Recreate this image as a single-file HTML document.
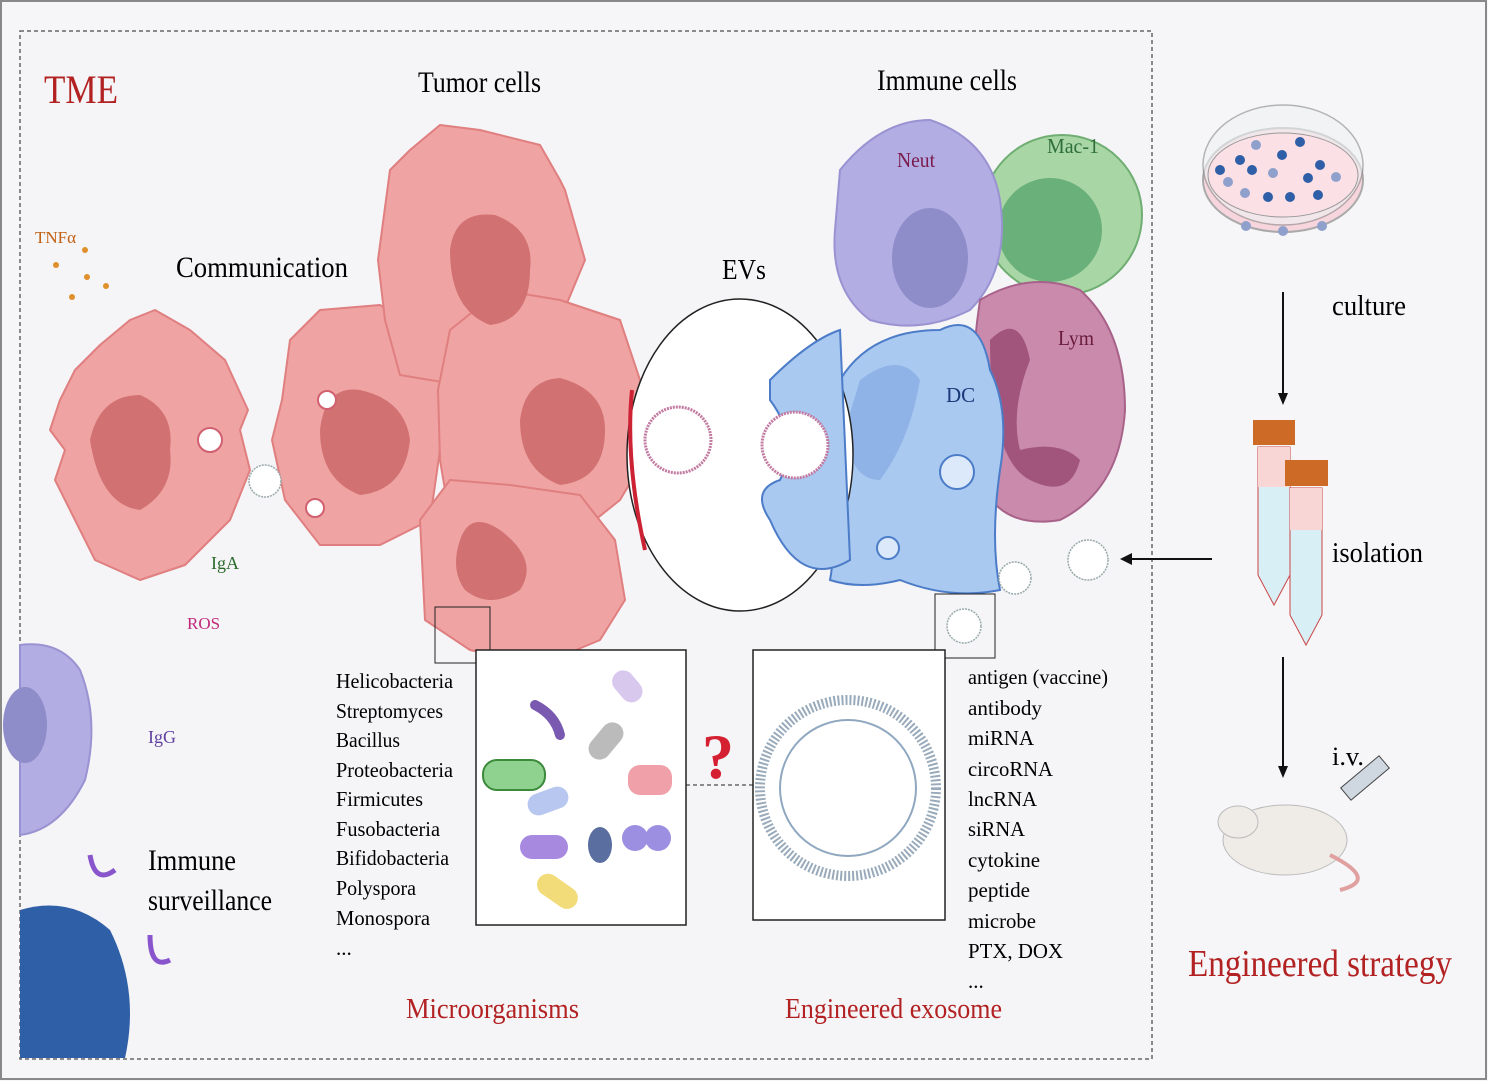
<!DOCTYPE html>
<html><head><meta charset="utf-8"><style>
html,body{margin:0;padding:0;background:#f6f5f8;}
svg{display:block;}
text{font-family:"Liberation Serif",serif;}
</style></head><body>
<svg width="1488" height="1081" viewBox="0 0 1488 1081" xmlns="http://www.w3.org/2000/svg">
<rect x="0" y="0" width="1488" height="1081" fill="#f6f5f8"/>
<rect x="1" y="1" width="1485" height="1078" fill="none" stroke="#888" stroke-width="2"/>
<rect x="20" y="31" width="1132" height="1028" fill="#f5f4f7" stroke="#666" stroke-width="1.5" stroke-dasharray="4,3"/>

<!-- tumor cells -->
<g fill="#f0a3a3" stroke="#e07f80" stroke-width="2" stroke-linejoin="round">
<path d="M60,400 L50,430 L65,450 L55,480 L75,520 L95,560 L140,580 L185,565 L230,520 L250,470 L240,430 L248,410 L225,360 L190,330 L155,310 L130,320 L100,345 L75,370Z"/>
<path d="M290,340 L320,310 L380,305 L420,330 L445,380 L440,450 L430,520 L380,545 L320,545 L285,500 L272,440 L282,400Z"/>
<path d="M390,170 L410,150 L440,125 L480,130 L540,145 L560,180 L565,190 L585,260 L560,320 L520,380 L460,385 L400,375 L385,320 L378,260Z"/>
<path d="M450,330 L500,290 L560,300 L620,320 L640,380 L650,450 L620,500 L570,540 L510,535 L450,520 L440,460 L438,390Z"/>
<path d="M420,520 L450,480 L510,485 L580,495 L615,540 L625,600 L600,640 L540,665 L470,650 L425,620Z"/>
</g>
<g fill="#d27172">
<path d="M90,440 Q100,395 140,395 Q175,410 170,450 Q175,490 140,510 Q100,505 90,440Z"/>
<path d="M320,430 Q325,385 360,390 Q405,400 410,440 Q405,490 360,495 Q320,480 320,430Z"/>
<path d="M450,250 Q455,210 495,215 Q535,230 530,270 Q530,320 490,325 Q450,310 450,250Z"/>
<path d="M520,420 Q525,380 560,378 Q605,390 605,430 Q605,480 560,485 Q520,470 520,420Z"/>
<path d="M460,540 Q470,510 500,530 Q540,560 520,590 Q490,610 465,590 Q450,570 460,540Z"/>
</g>

<!-- immune cells -->
<circle cx="1062" cy="215" r="80" fill="#a9d6a5" stroke="#6fae72" stroke-width="2"/>
<circle cx="1050" cy="230" r="52" fill="#69b07a"/>
<path d="M840,170 Q880,120 930,120 Q990,140 1000,200 Q1010,270 970,310 Q920,335 870,320 Q830,290 835,230Z" fill="#b2ade3" stroke="#9a93d2" stroke-width="2"/>
<ellipse cx="930" cy="258" rx="38" ry="50" fill="#8f8dc9"/>
<path d="M980,300 Q1030,270 1080,290 Q1125,330 1125,410 Q1120,490 1060,520 Q1000,530 980,480 Q965,400 980,300Z" fill="#c98aac" stroke="#a8628a" stroke-width="2"/>
<path d="M990,340 Q1020,310 1030,360 Q1010,410 1020,450 Q1060,440 1080,460 Q1070,500 1030,480 Q990,460 990,340Z" fill="#a2557c"/>
<path d="M840,380 Q870,330 940,330 Q980,310 990,370 Q1010,410 1000,470 Q990,540 1000,590 Q950,600 900,580 Q860,590 830,580 Q840,530 800,520 Q760,480 800,450 Q820,420 840,380Z" fill="#a9c9f1" stroke="#4c7cc8" stroke-width="2"/>
<path d="M860,380 Q900,350 920,380 Q910,440 880,480 Q850,480 845,430Z" fill="#8fb3e6"/>
<circle cx="957" cy="472" r="17" fill="#dce9fa" stroke="#4c7cc8" stroke-width="2"/>
<circle cx="888" cy="548" r="11" fill="#dce9fa" stroke="#4c7cc8" stroke-width="2"/>

<!-- EVs circle -->
<ellipse cx="740" cy="455" rx="113" ry="156" fill="#fff" stroke="#222" stroke-width="1.5"/>
<path d="M770,380 Q810,340 840,330 L850,560 Q800,590 770,520 Q750,490 780,480 Q800,440 770,400Z" fill="#a9c9f1" stroke="#4c7cc8" stroke-width="2"/>
<circle cx="795" cy="445" r="33" fill="#fff" stroke="#c27aa0" stroke-width="3" stroke-dasharray="2,1"/>
<circle cx="678" cy="440" r="33" fill="#fff" stroke="#c27aa0" stroke-width="3" stroke-dasharray="2,1"/>
<path d="M632,390 Q625,460 645,550" fill="none" stroke="#c23" stroke-width="4"/>

<!-- small vesicles -->
<g fill="#fff" stroke="#9aa" stroke-width="1.5" stroke-dasharray="2,1">
<circle cx="265" cy="481" r="16"/><circle cx="1015" cy="578" r="16"/><circle cx="1088" cy="560" r="20"/><circle cx="964" cy="626" r="17"/>
</g>
<g fill="#fff" stroke="#d06070" stroke-width="2">
<circle cx="210" cy="440" r="12"/><circle cx="327" cy="400" r="9"/><circle cx="315" cy="508" r="9"/>
</g>
<rect x="935" y="594" width="60" height="64" fill="none" stroke="#222" stroke-width="1"/>
<rect x="435" y="607" width="55" height="56" fill="none" stroke="#222" stroke-width="1"/>

<!-- left immune cells -->
<path d="M20,645 Q60,640 80,670 Q100,720 85,780 Q60,830 20,835Z" fill="#b2ade3" stroke="#9a93d2" stroke-width="2"/>
<ellipse cx="25" cy="725" rx="22" ry="38" fill="#8f8dc9"/>
<path d="M20,910 Q70,895 110,930 Q140,990 125,1058 L20,1058Z" fill="#2f5fa6"/>
<path d="M90,855 Q95,885 115,870 M150,935 Q150,970 170,960" fill="none" stroke="#8855cc" stroke-width="5"/>

<!-- dots -->
<g fill="#e0902a"><circle cx="56" cy="265" r="3"/><circle cx="85" cy="250" r="3"/><circle cx="72" cy="297" r="3"/><circle cx="87" cy="277" r="3"/><circle cx="106" cy="286" r="3"/></g>

<!-- boxes -->
<rect x="476" y="650" width="210" height="275" fill="#fff" stroke="#222" stroke-width="1.5"/>
<rect x="753" y="650" width="192" height="270" fill="#fff" stroke="#222" stroke-width="1.5"/>
<line x1="686" y1="785" x2="753" y2="785" stroke="#222" stroke-width="1" stroke-dasharray="4,3"/>
<text x="718" y="778" font-size="64" fill="#d42030" text-anchor="middle" font-weight="bold">?</text>
<g>
<rect x="483" y="760" width="62" height="30" rx="14" fill="#8fd18f" stroke="#3a8a3a" stroke-width="2"/>
<rect x="520" y="835" width="48" height="24" rx="12" fill="#a78ae0"/>
<rect x="527" y="790" width="42" height="22" rx="11" fill="#b7c7f0" transform="rotate(-20 548 801)"/>
<rect x="585" y="730" width="42" height="22" rx="11" fill="#bbb" transform="rotate(-50 606 741)"/>
<rect x="628" y="765" width="44" height="30" rx="12" fill="#f0a0a8"/>
<rect x="610" y="675" width="35" height="22" rx="11" fill="#d8c8ee" transform="rotate(50 627 686)"/>
<rect x="535" y="880" width="45" height="22" rx="11" fill="#f2dc7a" transform="rotate(35 557 891)"/>
<ellipse cx="600" cy="845" rx="12" ry="18" fill="#5a6ea0"/>
<circle cx="635" cy="838" r="13" fill="#9c8ee0"/><circle cx="658" cy="838" r="13" fill="#9c8ee0"/>
<path d="M535,705 Q555,715 560,735" stroke="#7a5ab0" stroke-width="10" fill="none" stroke-linecap="round"/>
</g>
<circle cx="848" cy="788" r="88" fill="none" stroke="#9ab" stroke-width="10" stroke-dasharray="2,2"/>
<circle cx="848" cy="788" r="68" fill="#fff" stroke="#8fa8c0" stroke-width="2"/>

<!-- right side: culture -->
<ellipse cx="1283" cy="180" rx="80" ry="52" fill="#f7d5dc" stroke="#aaa" stroke-width="2"/>
<ellipse cx="1283" cy="165" rx="80" ry="60" fill="#eef2f3" stroke="#888" stroke-width="1.5" opacity="0.6"/>
<ellipse cx="1283" cy="175" rx="75" ry="42" fill="#fbe0e6" stroke="#999" stroke-width="1"/>
<g fill="#2f5fa6"><circle cx="1220" cy="170" r="5"/><circle cx="1240" cy="160" r="5"/><circle cx="1252" cy="170" r="5"/><circle cx="1282" cy="155" r="5"/><circle cx="1300" cy="142" r="5"/><circle cx="1320" cy="165" r="5"/><circle cx="1308" cy="178" r="5"/><circle cx="1268" cy="197" r="5"/><circle cx="1290" cy="197" r="5"/><circle cx="1318" cy="195" r="5"/></g>
<g fill="#8fa0cc"><circle cx="1256" cy="145" r="5"/><circle cx="1228" cy="182" r="5"/><circle cx="1273" cy="173" r="5"/><circle cx="1336" cy="177" r="5"/><circle cx="1245" cy="193" r="5"/><circle cx="1246" cy="226" r="5"/><circle cx="1283" cy="231" r="5"/><circle cx="1322" cy="226" r="5"/></g>
<line x1="1283" y1="292" x2="1283" y2="395" stroke="#111" stroke-width="2"/>
<polygon points="1278,393 1288,393 1283,405" fill="#111"/>
<text x="1332" y="315" font-size="28" textLength="74" lengthAdjust="spacingAndGlyphs">culture</text>
<!-- tubes -->
<rect x="1253" y="420" width="42" height="25" fill="#cc6a26"/>
<path d="M1258,447 L1290,447 L1290,575 L1274,605 L1258,575Z" fill="#d8eff5" stroke="#c44" stroke-width="1"/>
<rect x="1258" y="447" width="32" height="40" fill="#f8d6d6"/>
<rect x="1285" y="460" width="43" height="26" fill="#cc6a26"/>
<path d="M1290,488 L1322,488 L1322,615 L1306,645 L1290,615Z" fill="#d8eff5" stroke="#c44" stroke-width="1"/>
<rect x="1290" y="488" width="32" height="42" fill="#f8d6d6"/>
<text x="1332" y="562" font-size="28" textLength="91" lengthAdjust="spacingAndGlyphs">isolation</text>
<line x1="1212" y1="559" x2="1130" y2="559" stroke="#111" stroke-width="2"/>
<polygon points="1132,553 1132,565 1120,559" fill="#111"/>
<line x1="1283" y1="657" x2="1283" y2="768" stroke="#111" stroke-width="2"/>
<polygon points="1278,766 1288,766 1283,778" fill="#111"/>
<text x="1332" y="765" font-size="26" textLength="32" lengthAdjust="spacingAndGlyphs">i.v.</text>
<rect x="1340" y="770" width="50" height="16" fill="#cfd8e0" stroke="#444" transform="rotate(-40 1365 778)"/>
<ellipse cx="1285" cy="840" rx="62" ry="35" fill="#efece8" stroke="#bbb"/>
<ellipse cx="1238" cy="822" rx="20" ry="16" fill="#efece8" stroke="#bbb"/>
<path d="M1330,855 Q1380,880 1340,890" fill="none" stroke="#e0a0a0" stroke-width="4"/>

<!-- texts -->
<text x="44" y="103" font-size="40" fill="#b22222" textLength="74" lengthAdjust="spacingAndGlyphs">TME</text>
<text x="418" y="92" font-size="30" textLength="123" lengthAdjust="spacingAndGlyphs">Tumor cells</text>
<text x="877" y="90" font-size="30" textLength="140" lengthAdjust="spacingAndGlyphs">Immune cells</text>
<text x="176" y="277" font-size="30" textLength="172" lengthAdjust="spacingAndGlyphs">Communication</text>
<text x="722" y="279" font-size="28" textLength="44" lengthAdjust="spacingAndGlyphs">EVs</text>
<text x="35" y="243" font-size="17" fill="#c06010">TNFα</text>
<text x="897" y="167" font-size="21" fill="#7a1b4b" textLength="38" lengthAdjust="spacingAndGlyphs">Neut</text>
<text x="1047" y="153" font-size="21" fill="#2f6f3a" textLength="52" lengthAdjust="spacingAndGlyphs">Mac-1</text>
<text x="1058" y="345" font-size="21" fill="#6a1b3b" textLength="36" lengthAdjust="spacingAndGlyphs">Lym</text>
<text x="946" y="402" font-size="21" fill="#1a3a7a">DC</text>
<text x="211" y="569" font-size="18" fill="#2a6a2a">IgA</text>
<text x="187" y="629" font-size="17" fill="#c0287a">ROS</text>
<text x="148" y="743" font-size="18" fill="#6040a0">IgG</text>
<text x="148" y="870" font-size="30" textLength="88" lengthAdjust="spacingAndGlyphs">Immune</text>
<text x="148" y="910" font-size="30" textLength="124" lengthAdjust="spacingAndGlyphs">surveillance</text>
<g font-size="21">
<text x="336" y="688" textLength="117" lengthAdjust="spacingAndGlyphs">Helicobacteria</text>
<text x="336" y="718" textLength="107" lengthAdjust="spacingAndGlyphs">Streptomyces</text>
<text x="336" y="747" textLength="64" lengthAdjust="spacingAndGlyphs">Bacillus</text>
<text x="336" y="777" textLength="117" lengthAdjust="spacingAndGlyphs">Proteobacteria</text>
<text x="336" y="806" textLength="87" lengthAdjust="spacingAndGlyphs">Firmicutes</text>
<text x="336" y="836" textLength="104" lengthAdjust="spacingAndGlyphs">Fusobacteria</text>
<text x="336" y="865" textLength="113" lengthAdjust="spacingAndGlyphs">Bifidobacteria</text>
<text x="336" y="895" textLength="80" lengthAdjust="spacingAndGlyphs">Polyspora</text>
<text x="336" y="925" textLength="94" lengthAdjust="spacingAndGlyphs">Monospora</text>
<text x="336" y="955">...</text>
<text x="968" y="684" textLength="140" lengthAdjust="spacingAndGlyphs">antigen (vaccine)</text>
<text x="968" y="715" textLength="74" lengthAdjust="spacingAndGlyphs">antibody</text>
<text x="968" y="745" textLength="66" lengthAdjust="spacingAndGlyphs">miRNA</text>
<text x="968" y="776" textLength="85" lengthAdjust="spacingAndGlyphs">circoRNA</text>
<text x="968" y="806" textLength="69" lengthAdjust="spacingAndGlyphs">lncRNA</text>
<text x="968" y="836" textLength="57" lengthAdjust="spacingAndGlyphs">siRNA</text>
<text x="968" y="867" textLength="72" lengthAdjust="spacingAndGlyphs">cytokine</text>
<text x="968" y="897" textLength="62" lengthAdjust="spacingAndGlyphs">peptide</text>
<text x="968" y="928" textLength="68" lengthAdjust="spacingAndGlyphs">microbe</text>
<text x="968" y="958" textLength="95" lengthAdjust="spacingAndGlyphs">PTX, DOX</text>
<text x="968" y="988">...</text>
</g>
<text x="406" y="1018" font-size="28" fill="#b22222" textLength="173" lengthAdjust="spacingAndGlyphs">Microorganisms</text>
<text x="785" y="1018" font-size="28" fill="#b22222" textLength="217" lengthAdjust="spacingAndGlyphs">Engineered exosome</text>
<text x="1188" y="976" font-size="38" fill="#b22222" textLength="264" lengthAdjust="spacingAndGlyphs">Engineered strategy</text>
</svg>
</body></html>
